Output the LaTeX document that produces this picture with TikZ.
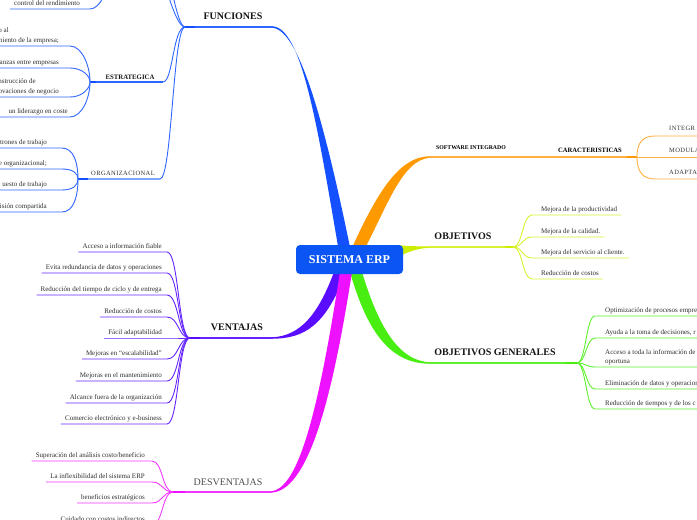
\documentclass[tikz,border=0pt]{standalone}
\usepackage{fontspec}
\setmainfont{Liberation Serif}
\definecolor{cnode}{HTML}{0B55F4}
\definecolor{cblue}{HTML}{1450FF}
\definecolor{cbluel}{HTML}{2F66FF}
\definecolor{cbluep}{HTML}{7FA6FF}
\definecolor{corg}{HTML}{FF9900}
\definecolor{corgl}{HTML}{FFAF3F}
\definecolor{cyel}{HTML}{CCEE00}
\definecolor{cyell}{HTML}{D8F230}
\definecolor{cgrn}{HTML}{48EE12}
\definecolor{cgrnl}{HTML}{5CF02E}
\definecolor{cpur}{HTML}{5A0CFF}
\definecolor{cpurl}{HTML}{6524FF}
\definecolor{cmag}{HTML}{EE11FF}
\definecolor{cmagl}{HTML}{F035FF}
\begin{document}
\begin{tikzpicture}[x=1pt,y=-1pt,
  kid/.style={line width=0.9pt},
  mainln/.style={line width=1.3pt},
  hubln/.style={line width=2.6pt},
  lbl/.style={inner sep=0pt, font=\fontsize{7}{8}\selectfont, text=black!82},
  head/.style={inner sep=0pt, font=\fontsize{10}{12}\selectfont\bfseries, text=black!92},
  subhead/.style={inner sep=0pt, font=\fontsize{6.8}{8}\selectfont\bfseries, text=black!90},
  caps/.style={inner sep=0pt, font=\fontsize{6.5}{8}\selectfont\addfontfeatures{LetterSpace=6}, text=black!80}
]
\useasboundingbox (0,0) rectangle (697,520);
\clip (0,0) rectangle (697,520);

% ================= FUNCIONES =================
\fill[cblue] (339,252) .. controls (318,130) and (302,26.3) .. (272,26.3) -- (272,27.7) .. controls (300,29) and (326,130) .. (351,252) -- cycle;
\coordinate (fh) at (185,27);
\coordinate (fe) at (273,27);
\draw[mainln, cbluel] (fh) -- (fe);
\draw[hubln, cblue] (fh) -- ++(10,0);
\node[head, anchor=base] (fun) at (233,19.5) {FUNCIONES};
\coordinate (fu1) at (150,-40);
\coordinate (fu2) at (150,-90);
\draw[kid, cbluel] (fh) .. controls +(-12,0) and +(12,0) .. (fu1);
\draw[kid, cbluel] (fh) .. controls +(-12,0) and +(12,0) .. (fu2);
% top partial branch
\coordinate (cr1) at (10,9);
\coordinate (cr2) at (90,9);
\coordinate (cru) at (108,-20);
\draw[kid, cbluel] (cr1) -- (cr2) .. controls +(10,0) and +(0,10) .. (cru);
\node[lbl, anchor=base west] (crt) at (14,5) {control del rendimiento};

% ESTRATEGICA
\coordinate (eh) at (90,82);
\coordinate (ee) at (163,82);
\draw[mainln, cbluel] (eh) -- (ee);
\draw[kid, cbluel] (ee) .. controls +(10,0) and +(-12,0) .. (fh);
\draw[hubln, cblue] (eh) -- ++(6,0);
\node[subhead, anchor=base] (est) at (130,79) {ESTRATEGICA};
\foreach \y/\xe/\t [count=\i] in {46/59/{miento de la empresa;}, 68/59/{anzas entre empresas}, 97/59/{ovaciones de negocio}, 117/68/{un liderazgo en coste}}{
  \node[lbl, anchor=base east] (es\i) at (\xe,\y-4) {\t};
  \coordinate (esa\i) at (-5,\y);
  \coordinate (esb\i) at (70,\y);
  \draw[kid, cbluel] (esa\i) -- (esb\i) .. controls +(12,0) and +(0,{(\y-82)*0.45}) .. (eh);
}
\node[lbl, anchor=base east] (es1b) at (9,32) {o al};
\node[lbl, anchor=base east] (es3b) at (36,83.5) {nstrucción de};

% ORGANIZACIONAL
\coordinate (oh) at (78,179);
\coordinate (oe) at (160,179);
\draw[mainln, cbluep] (oh) -- (oe);
\draw[kid, cbluel] (oe) .. controls +(12,0) and +(-12,0) .. (fh);
\draw[hubln, cblue] (oh) -- ++(10,0);
\node[caps, anchor=base] (org) at (123,175.5) {ORGANIZACIONAL};
\foreach \y/\t [count=\i] in {148/{itrones de trabajo}, 169/{e organizacional;}, 190/{uesto de trabajo}, 212/{isión compartida}}{
  \node[lbl, anchor=base east] (og\i) at (47,\y-4) {\t};
  \coordinate (oga\i) at (-5,\y);
  \coordinate (ogb\i) at (62,\y);
  \draw[kid, cbluel] (oga\i) -- (ogb\i) .. controls +(12,0) and +(0,{(\y-179)*0.5}) .. (oh);
}

% ================= SOFTWARE INTEGRADO =================
\fill[corg] (350,252) .. controls (376,195) and (398,156.3) .. (430,156.3) -- (430,157.7) .. controls (402,160) and (388,205) .. (363,252) -- cycle;
\coordinate (sh) at (429,157);
\coordinate (ch) at (637,157);
\draw[mainln, corgl] (sh) -- (ch);
\draw[hubln, corg] (ch) -- ++(-10,0);
\node[inner sep=0pt, font=\fontsize{5.8}{7}\selectfont\bfseries, anchor=base] (sw) at (471,149.5) {SOFTWARE INTEGRADO};
\node[inner sep=0pt, font=\fontsize{6.6}{8}\selectfont\bfseries, anchor=base] (car) at (590,152.3) {CARACTERISTICAS};
\coordinate (ca1) at (655,136);
\coordinate (ca3) at (655,179);
\coordinate (cz1) at (705,136);
\coordinate (cz2) at (705,157);
\coordinate (cz3) at (705,179);
\draw[kid, corgl] (ch) .. controls +(0,-15) and +(-12,0) .. (ca1) -- (cz1);
\draw[kid, corgl] (ch) -- (cz2);
\draw[kid, corgl] (ch) .. controls +(0,15) and +(-12,0) .. (ca3) -- (cz3);
\node[caps, anchor=base west] (ct1) at (669,130.5) {INTEGR};
\node[caps, anchor=base west] (ct2) at (669,152.3) {MODULA};
\node[caps, anchor=base west] (ct3) at (669,174.3) {ADAPTA};

% ================= OBJETIVOS =================
\fill[cyel] (398,245) .. controls (410,246.5) and (418,246.3) .. (430,246.3) -- (430,247.7) .. controls (416,248.5) and (408,252) .. (398,257) -- cycle;
\coordinate (ob0) at (429,247);
\coordinate (obh) at (513,247);
\draw[mainln, cyell] (ob0) -- (obh);
\draw[hubln, cyel] (obh) -- ++(-8,0);
\node[head, anchor=base] (obj) at (463,239.5) {OBJETIVOS};
\foreach \y/\t [count=\i] in {215/{Mejora de la productividad}, 237/{Mejora de la calidad.}, 258/{Mejora del servicio al cliente.}, 279/{Reducción de costos}}{
  \node[lbl, anchor=base west] (obt\i) at (541,\y-4) {\t};
  \coordinate (oba\i) at (532,\y);
  \path (obt\i.east |- oba\i) ++(4,0) coordinate (obb\i);
  \draw[kid, cyell] (obh) .. controls +(10,0) and +(-10,0) .. (oba\i) -- (obb\i);
}

% ================= OBJETIVOS GENERALES =================
\fill[cgrn] (350,272) .. controls (368,335) and (392,363.7) .. (430,363.7) -- (430,362.3) .. controls (398,361) and (378,325) .. (362,272) -- cycle;
\coordinate (g0) at (429,363);
\coordinate (gh) at (577,363);
\draw[mainln, cgrnl] (g0) -- (gh);
\draw[hubln, cgrn] (gh) -- ++(-12,0);
\node[head, anchor=base] (gen) at (495,355.5) {OBJETIVOS GENERALES};
\foreach \y/\t [count=\i] in {316/{Optimización de procesos empre}, 338/{Ayuda a la toma de decisiones, r}, 367/{oportuna}, 389/{Eliminación de datos y operacion}, 409/{Reducción de tiempos y de los c}}{
  \node[lbl, anchor=base west] (gt\i) at (605,\y-4) {\t};
  \coordinate (ga\i) at (595,\y);
  \coordinate (gb\i) at (705,\y);
  \draw[kid, cgrnl] (gh) .. controls +(9,0) and +(-9,0) .. (ga\i) -- (gb\i);
}
\node[lbl, anchor=base west] (gt3b) at (605,354.5) {Acceso a toda la información de};

% ================= VENTAJAS =================
\fill[cpur] (346,272) .. controls (326,325) and (305,338.7) .. (272,338.7) -- (272,337.3) .. controls (300,336) and (318,315) .. (334,272) -- cycle;
\coordinate (vh) at (190,338);
\coordinate (v0) at (273,338);
\draw[mainln, cpurl] (vh) -- (v0);
\draw[hubln, cpur] (vh) -- ++(10,0);
\node[head, anchor=base] (ven) at (237,330.5) {VENTAJAS};
\foreach \y/\t [count=\i] in {252/{Acceso a información fiable}, 273/{Evita redundancia de datos y operaciones}, 295/{Reducción del tiempo de ciclo y de entrega}, 317/{Reducción de costos}, 338/{Fácil adaptabilidad}, 359/{Mejoras en “escalabilidad”}, 381/{Mejoras en el mantenimiento}, 403/{Alcance fuera de la organización}, 424/{Comercio electrónico y e-business}}{
  \node[lbl, anchor=base east] (vt\i) at (162,\y-4) {\t};
  \coordinate (vb\i) at (167,\y);
  \path (vt\i.west |- vb\i) ++(-4,0) coordinate (va\i);
  \draw[kid, cpurl] (va\i) -- (vb\i) .. controls +(12,0) and +(-12,0) .. (vh);
}

% ================= DESVENTAJAS =================
\fill[cmag] (352,272) .. controls (332,400) and (308,492.7) .. (270,492.7) -- (270,491.3) .. controls (300,491) and (320,400) .. (340,272) -- cycle;
\coordinate (dh) at (173,492);
\coordinate (d0) at (272,492);
\draw[mainln, cmagl] (dh) -- (d0);
\draw[hubln, cmag] (dh) -- ++(12,0);
\node[inner sep=0pt, font=\fontsize{10}{12}\selectfont, text=black!70, anchor=base] (des) at (228,485.5) {DESVENTAJAS};
\foreach \y/\t [count=\i] in {461/{Superación del análisis costo/beneficio}, 482/{La inflexibilidad del sistema ERP}, 503/{beneficios estratégicos}, 525/{Cuidado con costos indirectos}}{
  \node[lbl, anchor=base east] (dt\i) at (145,\y-4) {\t};
  \coordinate (db\i) at (152,\y);
  \path (dt\i.west |- db\i) ++(-4,0) coordinate (da\i);
  \draw[kid, cmagl] (da\i) -- (db\i) .. controls +(11,0) and +(-11,0) .. (dh);
}

% ================= CENTER =================
\node[fill=cnode, rounded corners=4pt, minimum width=107pt, minimum height=29pt, inner sep=0pt, text=white, font=\fontsize{12}{14}\selectfont\bfseries] (erp) at (349.5,259.5) {SISTEMA ERP};
\end{tikzpicture}
\end{document}
